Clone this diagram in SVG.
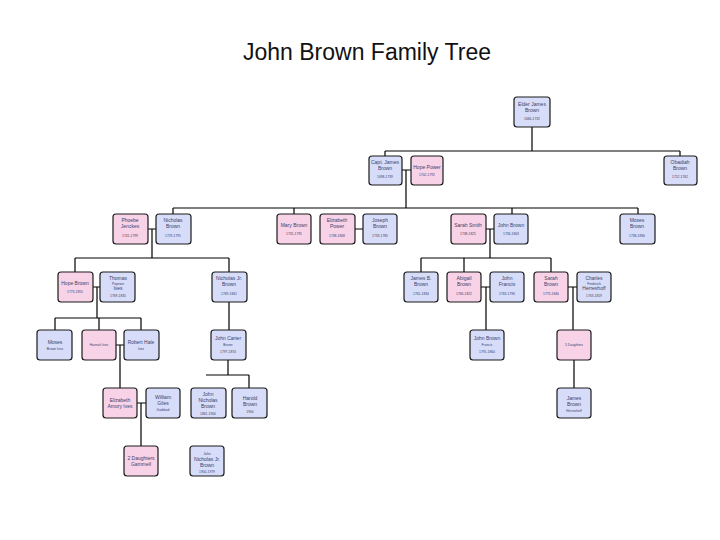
<svg xmlns="http://www.w3.org/2000/svg" width="720" height="540" viewBox="0 0 720 540">
<style>
.b{fill:#d7ddf8;stroke:#1a1a1a;stroke-width:1.2}
.p{fill:#f8d3e8;stroke:#1a1a1a;stroke-width:1.2}
.s{fill:#9a9a9a}
text{font-family:"Liberation Sans",Arial,sans-serif;fill:#3a3f6a;text-anchor:middle}
.n{font-size:5px}
.d{font-size:3.3px}
.c{stroke:#000;stroke-width:1.2;fill:none}
</style>
<rect width="720" height="540" fill="#fff"/>
<text x="367" y="60" style="font-size:23px;fill:#111">John Brown Family Tree</text>
<g id="connectors" class="c">
<path d="M532 127V151M385 151H680M385 151V156M680 151V156"/>
<path d="M401 170H411M406 170V208M173 208H638M173 208V214M294 208V214M512 208V214M638 208V214M355 229H363"/>
<path d="M148 229H156M152 229V258M75 258H229M75 258V272M229 258V272"/>
<path d="M486 229H494M490 229V258M421 258H551M421 258V272M464 258V272M551 258V272"/>
<path d="M93 287H100M97 287V318M55 318H141M55 318V330M99 318V330M141 318V330"/>
<path d="M229 302V330M481 287H490M486 287V330M568 287H577M573 287V330"/>
<path d="M116 345H124M120 345V388M228 360V375M206 375H249M249 375V388M574 360V388"/>
<path d="M137 403H146M141 403V446"/>
</g>
<g id="nodes">
<g id="n1"><rect class="b" x="514" y="97" width="36" height="30" rx="3"/><text class="n" x="532" y="106">Elder James</text><text class="n" x="532" y="112">Brown</text><text class="d" x="532" y="120">1666-1732</text></g>
<g id="n2"><rect class="b" x="369" y="156" width="33" height="29" rx="3"/><text class="n" x="385" y="164">Capt. James</text><text class="n" x="385" y="170">Brown</text><text class="d" x="385" y="178">1698-1739</text></g>
<g id="n3"><rect class="p" x="411" y="156" width="32" height="29" rx="3"/><text class="n" x="427" y="169">Hope Power</text><text class="d" x="427" y="176">1702-1792</text></g>
<g id="n4"><rect class="b" x="664" y="156" width="33" height="29" rx="3"/><text class="n" x="680" y="164">Obadiah</text><text class="n" x="680" y="170">Brown</text><text class="d" x="680" y="178">1712-1762</text></g>
<g id="n5"><rect class="p" x="113" y="214" width="35" height="30" rx="3"/><text class="n" x="130" y="222">Phoebe</text><text class="n" x="130" y="228">Jenckes</text><text class="d" x="130" y="237">1741-1799</text></g>
<g id="n6"><rect class="b" x="156" y="214" width="35" height="30" rx="3"/><text class="n" x="173" y="222">Nicholas</text><text class="n" x="173" y="228">Brown</text><text class="d" x="173" y="237">1729-1791</text></g>
<g id="n7"><rect class="p" x="277" y="214" width="34" height="30" rx="3"/><text class="n" x="294" y="227">Mary Brown</text><text class="d" x="294" y="235">1731-1795</text></g>
<g id="n8"><rect class="p" x="320" y="214" width="35" height="30" rx="3"/><text class="n" x="337" y="222">Elizabeth</text><text class="n" x="337" y="228">Power</text><text class="d" x="337" y="237">1738-1808</text></g>
<g id="n9"><rect class="b" x="363" y="214" width="34" height="30" rx="3"/><text class="n" x="380" y="222">Joseph</text><text class="n" x="380" y="228">Brown</text><text class="d" x="380" y="237">1733-1785</text></g>
<g id="n10"><rect class="p" x="451" y="214" width="35" height="30" rx="3"/><text class="n" x="468" y="227">Sarah Smith</text><text class="d" x="468" y="235">1738-1825</text></g>
<g id="n11"><rect class="b" x="494" y="214" width="34" height="30" rx="3"/><text class="n" x="511" y="227">John Brown</text><text class="d" x="511" y="235">1736-1803</text></g>
<g id="n12"><rect class="b" x="620" y="214" width="35" height="30" rx="3"/><text class="n" x="637" y="222">Moses</text><text class="n" x="637" y="228">Brown</text><text class="d" x="637" y="237">1738-1836</text></g>
<g id="n13"><rect class="p" x="58" y="272" width="35" height="30" rx="3"/><text class="n" x="75" y="285">Hope Brown</text><text class="d" x="75" y="293">1773-1855</text></g>
<g id="n14"><rect class="b" x="100" y="272" width="35" height="30" rx="3"/><text class="n" x="118" y="280">Thomas</text><text class="d" x="118" y="285">Poynton</text><text class="n" x="118" y="290">Ives</text><text class="d" x="118" y="297">1769-1835</text></g>
<g id="n15"><rect class="b" x="212" y="272" width="35" height="30" rx="3"/><text class="n" x="229" y="280">Nicholas Jr.</text><text class="n" x="229" y="286">Brown</text><text class="d" x="229" y="295">1769-1841</text></g>
<g id="n16"><rect class="b" x="404" y="272" width="34" height="30" rx="3"/><text class="n" x="421" y="280">James B.</text><text class="n" x="421" y="286">Brown</text><text class="d" x="421" y="295">1761-1834</text></g>
<g id="n17"><rect class="p" x="447" y="272" width="34" height="30" rx="3"/><text class="n" x="464" y="280">Abigail</text><text class="n" x="464" y="286">Brown</text><text class="d" x="464" y="295">1766-1822</text></g>
<g id="n18"><rect class="b" x="490" y="272" width="34" height="30" rx="3"/><text class="n" x="507" y="280">John</text><text class="n" x="507" y="286">Francis</text><text class="d" x="507" y="295">1763-1796</text></g>
<g id="n19"><rect class="p" x="534" y="272" width="34" height="30" rx="3"/><text class="n" x="551" y="280">Sarah</text><text class="n" x="551" y="286">Brown</text><text class="d" x="551" y="295">1773-1846</text></g>
<g id="n20"><rect class="b" x="577" y="272" width="34" height="30" rx="3"/><text class="n" x="594" y="280">Charles</text><text class="d" x="594" y="285">Frederick</text><text class="n" x="594" y="290">Herreshoff</text><text class="d" x="594" y="297">1763-1819</text></g>
<g id="n21"><rect class="b" x="37" y="330" width="35" height="30" rx="3"/><text class="n" x="55" y="344">Moses</text><text class="d" x="55" y="350">Brown Ives</text></g>
<g id="n22"><rect class="p" x="82" y="330" width="34" height="30" rx="3"/><text class="d" x="99" y="346">Hannah Ives</text></g>
<g id="n23"><rect class="b" x="124" y="330" width="35" height="30" rx="3"/><text class="n" x="141" y="344">Robert Hale</text><text class="d" x="141" y="350">Ives</text></g>
<g id="n24"><rect class="b" x="211" y="330" width="35" height="30" rx="3"/><text class="n" x="228" y="340">John Carter</text><text class="d" x="228" y="346">Brown</text><text class="d" x="228" y="353">1797-1874</text></g>
<g id="n25"><rect class="b" x="470" y="330" width="34" height="30" rx="3"/><text class="n" x="487" y="340">John Brown</text><text class="d" x="487" y="346">Francis</text><text class="d" x="487" y="353">1791-1864</text></g>
<g id="n26"><rect class="p" x="557" y="330" width="34" height="30" rx="3"/><text class="d" x="574" y="346">5 Daughters</text></g>
<g id="n27"><rect class="p" x="103" y="388" width="34" height="30" rx="3"/><text class="n" x="120" y="402">Elizabeth</text><text class="n" x="120" y="408">Amory Ives</text></g>
<g id="n28"><rect class="b" x="146" y="388" width="34" height="30" rx="3"/><text class="n" x="163" y="399">William</text><text class="n" x="163" y="405">Giles</text><text class="d" x="163" y="411">Goddard</text></g>
<g id="n29"><rect class="b" x="191" y="388" width="35" height="30" rx="3"/><text class="n" x="208" y="396">John</text><text class="n" x="208" y="402">Nicholas</text><text class="n" x="208" y="408">Brown</text><text class="d" x="208" y="415">1861-1900</text></g>
<g id="n30"><rect class="b" x="232" y="388" width="35" height="30" rx="3"/><text class="n" x="250" y="400">Harold</text><text class="n" x="250" y="406">Brown</text><text class="d" x="250" y="413">1900</text></g>
<g id="n31"><rect class="b" x="557" y="388" width="34" height="30" rx="3"/><text class="n" x="574" y="400">James</text><text class="n" x="574" y="406">Brown</text><text class="d" x="574" y="412">Herreshoff</text></g>
<g id="n32"><rect class="p" x="124" y="446" width="34" height="30" rx="3"/><text class="n" x="141" y="460">2 Daughters</text><text class="n" x="141" y="466">Gammell</text></g>
<g id="n33"><rect class="b" x="190" y="446" width="34" height="30" rx="3"/><text class="d" x="207" y="455">John</text><text class="n" x="207" y="461">Nicholas Jr.</text><text class="n" x="207" y="467">Brown</text><text class="d" x="207" y="473">1900-1979</text></g>
</g>
</svg>
